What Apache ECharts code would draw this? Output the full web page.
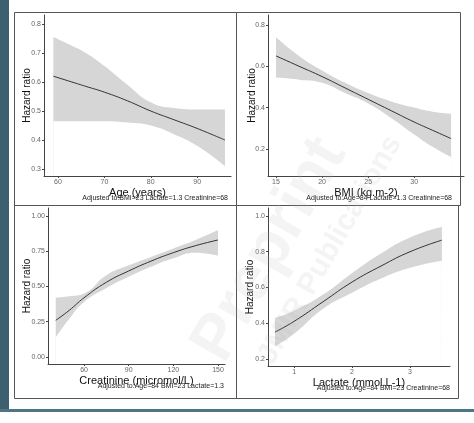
<!DOCTYPE html><html><head><meta charset="utf-8"><script src="https://cdn.jsdelivr.net/npm/echarts@6/dist/echarts.min.js"></script>
<style>html,body{margin:0;background:#fff}#c{width:474px;height:423px}</style></head><body><div id="c"></div><script>
const ageX=[59,63,66,70,75,80,85,90,96];
const ageFit=[0.62,0.60,0.585,0.565,0.535,0.50,0.47,0.44,0.40];
const ageHi=[0.755,0.725,0.70,0.655,0.59,0.53,0.51,0.505,0.505];
const ageLo=[0.465,0.465,0.465,0.465,0.46,0.45,0.42,0.38,0.31];
const bmiX=[15,17.5,20,22.5,25,27.5,30,32,34];
const bmiFit=[0.65,0.60,0.55,0.495,0.44,0.385,0.33,0.29,0.25];
const bmiHi=[0.74,0.65,0.58,0.52,0.47,0.43,0.40,0.38,0.37];
const bmiLo=[0.545,0.535,0.52,0.47,0.42,0.35,0.27,0.21,0.16];
const creX=[41,50,60,75,90,105,120,135,150];
const creFit=[0.26,0.33,0.42,0.53,0.61,0.68,0.74,0.79,0.83];
const creHi=[0.42,0.43,0.45,0.58,0.65,0.71,0.77,0.83,0.90];
const creLo=[0.14,0.27,0.39,0.49,0.57,0.64,0.70,0.74,0.72];
const lacX=[0.67,1,1.5,2,2.5,3,3.55];
const lacFit=[0.35,0.41,0.52,0.63,0.72,0.80,0.865];
const lacHi=[0.43,0.47,0.56,0.68,0.79,0.88,0.94];
const lacLo=[0.27,0.34,0.48,0.57,0.65,0.71,0.75];
const panels=[
 {x:ageX,f:ageFit,h:ageHi,l:ageLo,xt:[60,70,80,90],yt:[0.3,0.4,0.5,0.6,0.7,0.8],xr:[56.98,97.3],yr:[0.276,0.831],g:{left:44,top:15,width:187,height:161},name:'Age (years)',note:'Adjusted to:BMI=23 Lactate=1.3 Creatinine=68',nx:228,ny:195,yl:27,yf:v=>v.toFixed(1)},
 {x:bmiX,f:bmiFit,h:bmiHi,l:bmiLo,xt:[15,20,25,30],yt:[0.2,0.4,0.6,0.8],xr:[14.13,35.4],yr:[0.069,0.848],g:{left:268,top:15,width:196,height:161},name:'BMI (kg.m-2)',note:'Adjusted to:Age=84 Lactate=1.3 Creatinine=68',nx:452,ny:195,yl:252,yf:v=>v.toFixed(1)},
 {x:creX,f:creFit,h:creHi,l:creLo,xt:[60,90,120,150],yt:[0,0.25,0.5,0.75,1],xr:[35.8,154.7],yr:[-0.05,1.057],g:{left:48,top:208,width:177,height:156},name:'Creatinine (micromol/L)',note:'Adjusted to:Age=84 BMI=23 Lactate=1.3',nx:224,ny:383,yl:27,yf:v=>v.toFixed(2)},
 {x:lacX,f:lacFit,h:lacHi,l:lacLo,xt:[1,2,3],yt:[0.2,0.4,0.6,0.8,1.0],xr:[0.55,3.69],yr:[0.16,1.045],g:{left:268,top:208,width:182,height:158},name:'Lactate (mmol.L-1)',note:'Adjusted to:Age=84 BMI=23 Creatinine=68',nx:450,ny:385,yl:250,yf:v=>v.toFixed(1)}
];
const grid=[],xAxis=[],yAxis=[],series=[],gfx=[];
const tc='#666';
panels.forEach((p,i)=>{
 grid.push(p.g);
 xAxis.push({type:'value',gridIndex:i,min:p.xr[0],max:p.xr[1],splitLine:{show:false},
  axisLine:{onZero:false,lineStyle:{color:'#444'}},axisTick:{customValues:p.xt,length:2,lineStyle:{color:'#444'}},
  axisLabel:{customValues:p.xt,color:tc,fontSize:7,margin:3,fontFamily:'Liberation Sans'},
  name:p.name,nameLocation:'middle',nameGap:11,nameTextStyle:{color:'#111',fontSize:11,fontFamily:'Liberation Sans'}});
 yAxis.push({type:'value',gridIndex:i,min:p.yr[0],max:p.yr[1],splitLine:{show:false},
  axisLine:{onZero:false,show:true,lineStyle:{color:'#444'}},axisTick:{show:true,customValues:p.yt,length:2,lineStyle:{color:'#444'}},
  axisLabel:{customValues:p.yt,color:tc,fontSize:7,margin:3,formatter:p.yf,fontFamily:'Liberation Sans'}});
 series.push({type:'line',xAxisIndex:i,yAxisIndex:i,symbol:'none',lineStyle:{opacity:0},areaStyle:{color:'#d6d6d6',opacity:1,origin:'start'},data:p.x.map((x,k)=>[x,p.h[k]]),smooth:true,z:1});
 series.push({type:'line',xAxisIndex:i,yAxisIndex:i,symbol:'none',lineStyle:{opacity:0},areaStyle:{color:'#fff',opacity:1,origin:'start'},data:p.x.map((x,k)=>[x,p.l[k]]),smooth:true,z:2});
 series.push({type:'line',xAxisIndex:i,yAxisIndex:i,symbol:'none',lineStyle:{color:'#333',width:1},data:p.x.map((x,k)=>[x,p.f[k]]),smooth:true,z:5});
 gfx.push({type:'text',right:474-p.nx,top:p.ny,style:{text:p.note,fontSize:7,fill:'#222',fontFamily:'Liberation Sans'}});
 gfx.push({type:'text',x:p.yl,y:p.g.top+p.g.height/2,rotation:Math.PI/2,style:{text:'Hazard ratio',fontSize:10,fill:'#111',align:'center',verticalAlign:'middle',fontFamily:'Liberation Sans'}});
});
gfx.push({type:'rect',shape:{x:0,y:0,width:9,height:412},style:{fill:'#3d5f70'}});
gfx.push({type:'rect',shape:{x:0,y:409,width:474,height:3},style:{fill:'#4d7585'}});
gfx.push({type:'rect',shape:{x:14.5,y:12.5,width:222,height:193},style:{fill:'none',stroke:'#555',lineWidth:1}});
gfx.push({type:'rect',shape:{x:236.5,y:12.5,width:224,height:193},style:{fill:'none',stroke:'#555',lineWidth:1}});
gfx.push({type:'rect',shape:{x:14.5,y:205.5,width:222,height:193},style:{fill:'none',stroke:'#555',lineWidth:1}});
gfx.push({type:'rect',shape:{x:236.5,y:205.5,width:222,height:193},style:{fill:'none',stroke:'#555',lineWidth:1}});
gfx.push({type:'text',x:270,y:250,rotation:Math.PI/3,z:100,style:{text:'Preprint',fontSize:64,fontWeight:'bold',fill:'rgba(180,180,180,0.15)',align:'center',verticalAlign:'middle',fontFamily:'Liberation Sans'}});
gfx.push({type:'text',x:330,y:250,rotation:Math.PI/3,z:100,style:{text:'JMIR Publications',fontSize:30,fontWeight:'bold',fill:'rgba(180,180,180,0.15)',align:'center',verticalAlign:'middle',fontFamily:'Liberation Sans'}});
const ch=echarts.init(document.getElementById('c'));
ch.setOption({animation:false,grid,xAxis,yAxis,series,graphic:gfx});
</script></body></html>
